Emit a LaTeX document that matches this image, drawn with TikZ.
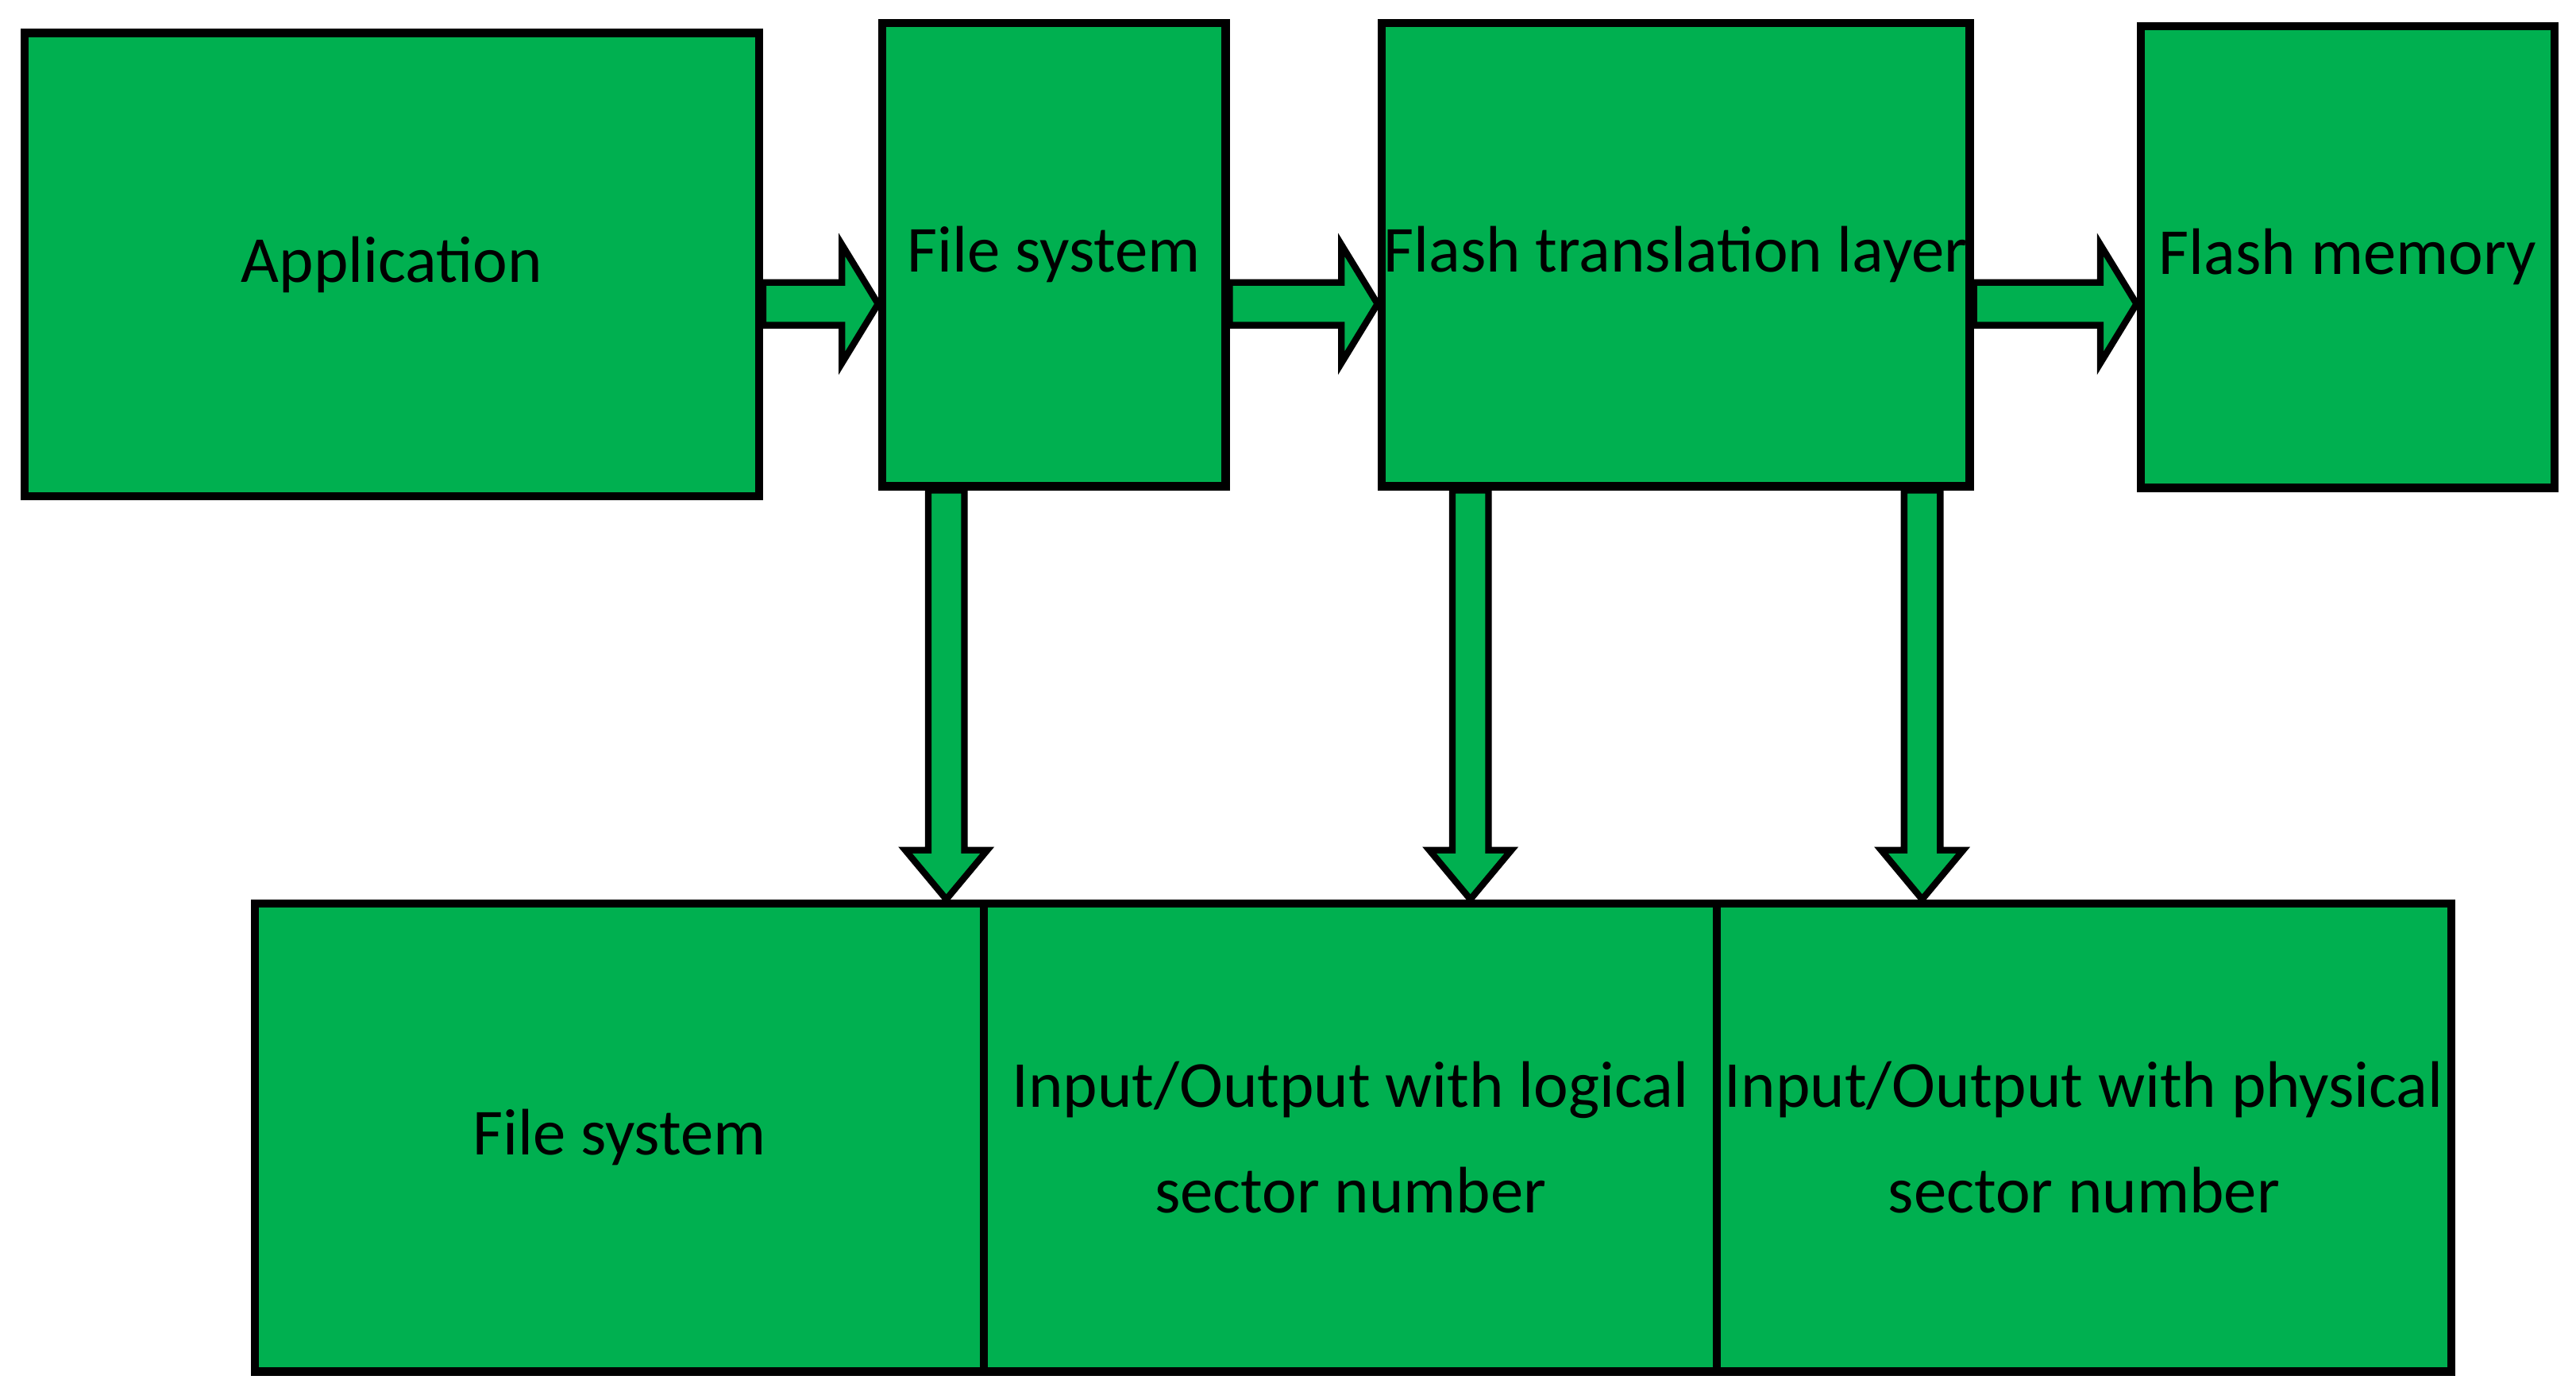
\documentclass[tikz,border=0pt]{standalone}
\usepackage{fontspec}
\setmainfont{Carlito}
\usetikzlibrary{calc}
\definecolor{g}{HTML}{00B050}
\begin{document}
\begin{tikzpicture}[x=1pt,y=1pt,
  box/.style={draw=black,line width=5pt,fill=g,inner sep=0pt,align=center,font=\fontsize{40}{64}\selectfont},
  arr/.style={draw=black,line width=4pt,fill=g,line join=miter}]
\useasboundingbox (0,0) rectangle (1568,849);
\node[box,minimum width=447,minimum height=282] (app) at (238.5,688) {Application};
\node[box,minimum width=209,minimum height=282] (fs) at (641.5,694) {File system};
\node[box,minimum width=358,minimum height=282] (ftl) at (1020,694) {Flash translation layer};
\node[box,minimum width=252,minimum height=281] (fm) at (1429,692.5) {Flash memory};
\node[box,minimum width=444,minimum height=285] (b1) at (377,156.5) {File system};
\node[box,minimum width=446,minimum height=285] (b2) at (822,156.5) {Input/Output with logical\\sector number};
\node[box,minimum width=447,minimum height=285] (b3) at (1268.5,156.5) {Input/Output with physical\\sector number};
\newcommand\harr[2]{\path[arr] let \p1=(#1.east), \p2=(#2.west) in
  (\x1,664+13) -- (\x2-22,664+13) -- (\x2-22,664+36) -- (\x2,664) -- (\x2-22,664-36) -- (\x2-22,664-13) -- (\x1,664-13) -- cycle;}
\newcommand\varr[3]{\path[arr] let \p1=(#1.south), \p2=(#2.north) in
  (#3-11,\y1) -- (#3-11,\y2+30) -- (#3-25,\y2+30) -- (#3,\y2) -- (#3+25,\y2+30) -- (#3+11,\y2+30) -- (#3+11,\y1) -- cycle;}
\harr{app}{fs}
\harr{fs}{ftl}
\harr{ftl}{fm}
\varr{fs}{b1}{576}
\varr{ftl}{b2}{895}
\varr{ftl}{b3}{1170}
\end{tikzpicture}
\end{document}
